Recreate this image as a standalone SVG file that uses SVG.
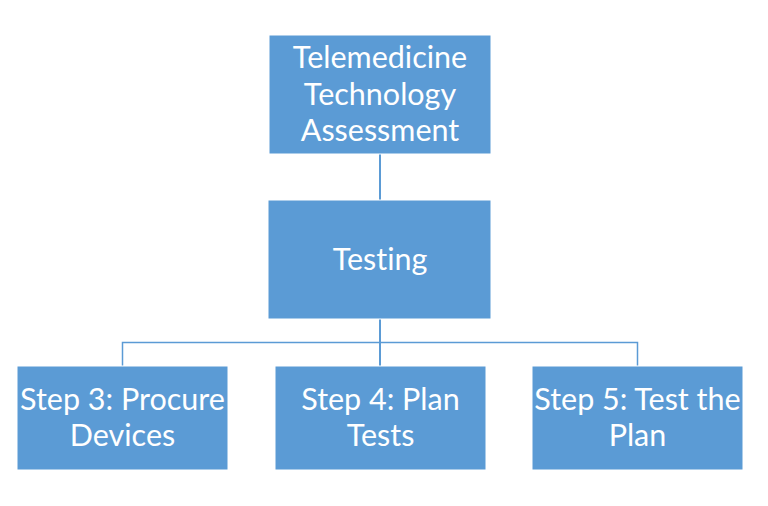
<svg xmlns="http://www.w3.org/2000/svg" width="768" height="506" viewBox="0 0 768 506">
<style>
.box{fill:#5B9BD5;stroke:#FFFFFF;stroke-width:1}
.t{font-family:Lato,"Open Sans","Liberation Sans",sans-serif;font-size:30.5px;fill:#FFFFFF;text-anchor:middle;font-variant-ligatures:none}
.c{stroke:#5B9BD5;fill:none;stroke-width:1.5}
</style>
<rect width="768" height="506" fill="#FFFFFF"/>
<g id="connectors">
<line class="c" x1="380" y1="154" x2="380" y2="200" style="stroke-width:2"/>
<line class="c" x1="380" y1="319" x2="380" y2="366" style="stroke-width:2"/>
<polyline class="c" points="122.5,366 122.5,342.5 637.5,342.5 637.5,366"/>
</g>
<g id="node-assessment">
<rect class="box" x="269" y="35" width="222" height="119"/>
<text class="t" x="380" y="68">Telemedicine</text>
<text class="t" x="380" y="105">Technology</text>
<text class="t" x="380" y="141">Assessment</text>
</g>
<g id="node-testing">
<rect class="box" x="268" y="200" width="223" height="119"/>
<text class="t" x="380" y="270">Testing</text>
</g>
<g id="node-step3">
<rect class="box" x="17" y="366" width="211" height="104"/>
<text class="t" x="122.5" y="410">Step 3: Procure</text>
<text class="t" x="122.5" y="446">Devices</text>
</g>
<g id="node-step4">
<rect class="box" x="275" y="366" width="211" height="104"/>
<text class="t" x="380.5" y="410">Step 4: Plan</text>
<text class="t" x="380.5" y="446">Tests</text>
</g>
<g id="node-step5">
<rect class="box" x="532" y="366" width="211" height="104"/>
<text class="t" x="637.5" y="410">Step 5: Test the</text>
<text class="t" x="637.5" y="446">Plan</text>
</g>
</svg>
